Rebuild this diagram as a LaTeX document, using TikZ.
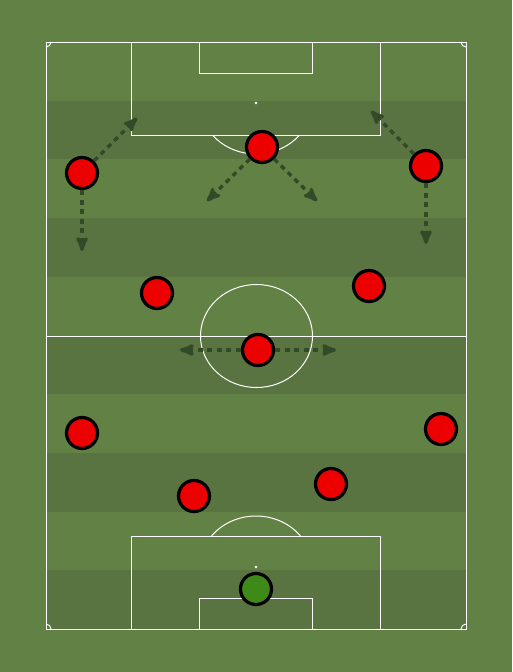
\documentclass[tikz,border=0pt]{standalone}
\usepackage{tikz}
\usetikzlibrary{arrows}
\definecolor{grass}{rgb}{0.384,0.506,0.271}
\definecolor{stripe}{rgb}{0.349,0.455,0.251}
\definecolor{run}{rgb}{0.20,0.29,0.16}
\definecolor{shirt}{rgb}{0.93,0,0}
\definecolor{keeper}{rgb}{0.24,0.54,0.10}

\begin{document}
\begin{tikzpicture}[x=1pt, y=-1pt, ->, >=stealth', thin]
  \tikzstyle{player}=[circle, minimum size=31pt, draw=black, line width=3.2pt, fill=shirt, inner sep=0pt]
  \tikzstyle{pline}=[draw=white, line width=1pt, -]
  \tikzstyle{move}=[draw=run, line width=3.4pt, dash pattern=on 5pt off 4.5pt]

	% pitch
	\useasboundingbox (0,0) rectangle (512,672);
	\fill[grass] (0,0) rectangle (512,672);
	\foreach \k in {1,3,5,7,9}
		\fill[stripe] (46,42+\k*58.7) rectangle (466,42+\k*58.7+58.7);
	\draw[pline] (46,42) rectangle (466,629);
	\draw[pline] (46,336) -- (466,336);
	\draw[pline] (256.5,336) ellipse [x radius=56, y radius=51.5];
	\draw[pline] (131,42) rectangle (380,135);
	\draw[pline] (199,42) rectangle (312,73);
	\draw[pline] (131,629) rectangle (380,536);
	\draw[pline] (199,629) rectangle (312,598);
	\fill[white] (256,103) circle (1.3);
	\fill[white] (256,567) circle (1.3);
	\begin{scope}
		\clip (46,135) rectangle (466,200);
		\draw[pline] (256,103) ellipse [x radius=56, y radius=51];
	\end{scope}
	\begin{scope}
		\clip (46,536) rectangle (466,480);
		\draw[pline] (256,567) ellipse [x radius=56, y radius=51];
	\end{scope}
	\draw[pline] (51,42) arc (0:90:5);
	\draw[pline] (461,42) arc (180:90:5);
	\draw[pline] (51,629) arc (0:-90:5);
	\draw[pline] (461,629) arc (180:270:5);

	% team
	\node[player] (LW) at (82,173) {};
	\node[player] (ST) at (262,147) {};
	\node[player] (RW) at (426,166) {};
	\node[player] (LCM) at (157,293) {};
	\node[player] (RCM) at (369,286) {};
	\node[player] (DM) at (258,350) {};
	\node[player] (LB) at (82,433) {};
	\node[player] (RB) at (441,429) {};
	\node[player] (LCB) at (194,496) {};
	\node[player] (RCB) at (331,484) {};
	\node[player, fill=keeper] (GK) at (256,589) {};

	\coordinate (LWin) at (137,118);
	\coordinate (LWdown) at (82,251);
	\coordinate (STleft) at (207,201);
	\coordinate (STright) at (317,201);
	\coordinate (RWin) at (371,111);
	\coordinate (RWdown) at (426,244);
	\coordinate (DMleft) at (180,350);
	\coordinate (DMright) at (336,350);

	\path
		(LW) edge [move] (LWin)
		(LW) edge [move] (LWdown)
		(ST) edge [move] (STleft)
		(ST) edge [move] (STright)
		(RW) edge [move] (RWin)
		(RW) edge [move] (RWdown)
		(DM) edge [move] (DMleft)
		(DM) edge [move] (DMright)
		;

\end{tikzpicture}
\end{document}
